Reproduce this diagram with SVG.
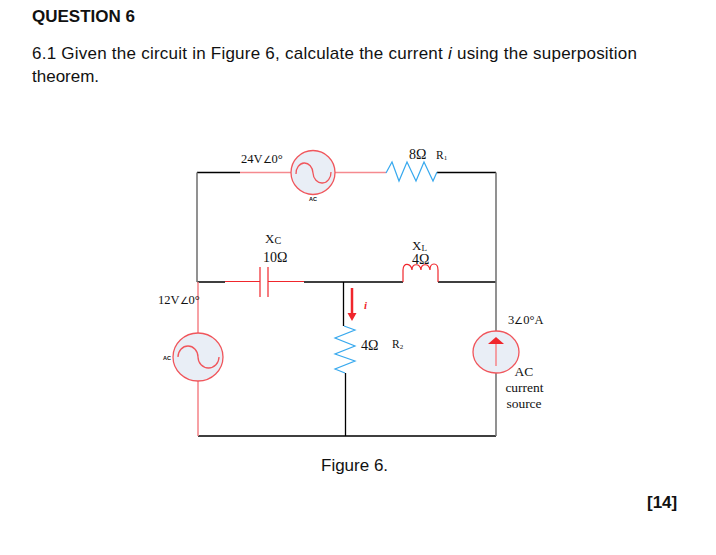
<svg xmlns="http://www.w3.org/2000/svg" width="716" height="555" viewBox="0 0 716 555">
<style>
.a{font-family:"Liberation Sans",Arial,sans-serif;fill:#111}
.b{font-size:17px}
.s{font-family:"Liberation Serif","Times New Roman",serif;fill:#111}
.k{stroke:#000;stroke-width:1.3;fill:none}
.g{stroke:#777;stroke-width:1.6;fill:none}
.p{stroke:#f58a8f;stroke-width:1.6;fill:none}
.r{stroke:#f0262c;stroke-width:1.2;fill:none}
.w{stroke:#f0565c;stroke-width:1.3;fill:none}
.z{stroke:#38a9ee;stroke-width:1.2;fill:none}
.c{fill:#e9eef6;stroke:#f0565c;stroke-width:1.3}
.n{font-size:9.500px}
</style>
<rect width="716" height="555" fill="#fff"/>
<g id="text">
<text class="a" x="32" y="22" font-size="17" font-weight="bold">QUESTION 6</text>
<text class="a b" x="32" y="59" textLength="605" xml:space="preserve">6.1 Given the circuit in Figure 6, calculate the current <tspan font-style="italic">i</tspan> using the superposition</text>
<text class="a b" x="32" y="82">theorem.</text>
<text class="a b" x="321" y="471">Figure 6.</text>
<text class="a" x="647" y="508" font-size="17" font-weight="bold">[14]</text>
</g>
<g id="connectors">
<path class="k" d="M240 172.500H197M437 172.500H496M197 282H225M304 282H403M438 282H496M343.500 282V326M345.500 373V436M198 436H496"/>
<path class="g" d="M197 172.500V282M496 172.500V331M496 373V436"/>
<path class="p" d="M240 172.500H291M335 172.500H386M198 282V333M198 381V436"/>
<path class="r" d="M225 281.500H260M268 281.500H304"/>
</g>
<g id="source-24v">
<circle class="c" cx="313" cy="172.500" r="22"/>
<path class="w" d="M296 174A8.500 10.500 0 0 1 313 173A9 10.500 0 0 0 331 172"/>
<text class="a" x="313" y="201" font-size="5.500" font-weight="bold" text-anchor="middle">AC</text>
<text class="s" x="241" y="163" font-size="12.500">24V<tspan class="n">∠</tspan>0°</text>
</g>
<g id="resistor-r1">
<path class="z" d="M386 173L392 162L399 181L407 162L416 181L424 162L433 181L437 172"/>
<text class="s" x="409" y="159" font-size="14">8Ω</text>
<text class="s" x="436" y="159" font-size="11.500">R<tspan font-size="7" dy="1">1</tspan></text>
</g>
<g id="capacitor-xc">
<path class="r" d="M260 267V297M268 267V297"/>
<text class="s" x="265" y="243" font-size="13">X<tspan font-size="10" dy="1">C</tspan></text>
<text class="s" x="263" y="262" font-size="14">10Ω</text>
</g>
<g id="inductor-xl">
<path class="r" d="M403 282V270C403 262 411 263 412 270C412 263 420 263 421 270C421 263 429 263 430 270C430 262 438 262 438 270V282"/>
<text class="s" x="412" y="250" font-size="13">X<tspan font-size="9" dy="1">L</tspan></text>
<text class="s" x="412" y="264" font-size="14">4Ω</text>
</g>
<g id="source-12v">
<ellipse class="c" cx="198" cy="357" rx="25" ry="24"/>
<path class="w" d="M178 357A10 11 0 0 1 198 357A10.500 11 0 0 0 219 357"/>
<text class="a" x="163" y="360" font-size="5.500" font-weight="bold">AC</text>
<text class="s" x="158" y="304" font-size="12.500">12V<tspan class="n">∠</tspan>0°</text>
</g>
<g id="resistor-r2">
<path class="z" d="M344 326L355 330L335 338L355 346L335 354L355 361L335 369L345 373"/>
<text class="s" x="361" y="350" font-size="14">4Ω</text>
<text class="s" x="392" y="348" font-size="11.500">R<tspan font-size="7" dy="1">2</tspan></text>
</g>
<g id="current-i">
<path d="M352 288V314" stroke="#f0262c" stroke-width="2.500" fill="none"/>
<path d="M347.500 313H356.500L352 321Z" fill="#f0262c"/>
<text class="s" x="364" y="309" font-size="11" font-style="italic" font-weight="bold" style="fill:#f0262c">i</text>
</g>
<g id="current-source">
<ellipse class="c" cx="496" cy="352" rx="23" ry="21"/>
<path d="M496 366V342" stroke="#f58a8f" stroke-width="1.600" fill="none"/>
<path d="M488 344L496 337L504 344Z" fill="#f0262c"/>
<text class="s" x="508" y="324" font-size="12.500">3<tspan class="n">∠</tspan>0°A</text>
<text class="s" x="524" y="376" font-size="13.500" text-anchor="middle">AC</text>
<text class="s" x="524.500" y="392" font-size="13.500" text-anchor="middle">current</text>
<text class="s" x="524" y="408" font-size="13.500" text-anchor="middle">source</text>
</g>
</svg>
